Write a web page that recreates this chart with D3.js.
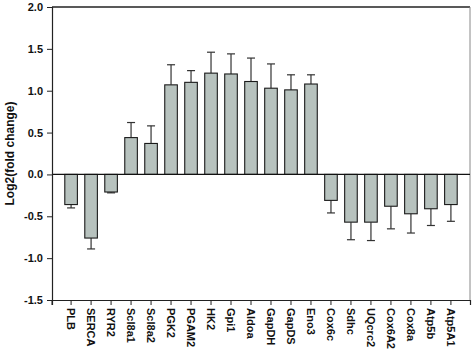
<!DOCTYPE html>
<html>
<head>
<meta charset="utf-8">
<script src="https://cdn.jsdelivr.net/npm/d3@7"></script>
<style>
  body { margin: 0; background: #fff; }
  text { font-family: Arial, "Liberation Sans", sans-serif; font-weight: bold; fill: #111; }
</style>
</head>
<body>
<svg id="chart" width="474" height="351"></svg>
<script>
// genes on the x axis
const genes = ["PLB", "SERCA", "RYR2", "Scl8a1", "Scl8a2", "PGK2", "PGAM2", "HK2", "Gpi1", "Aldoa",
  "GapDH", "GapDS", "Eno3", "Cox6c", "Sdhc", "UQcrc2", "Cox6A2", "Cox8a", "Atp5b", "Atp5A1"];
// mean log2 fold change
const foldChange = [-0.36, -0.76, -0.21, 0.44, 0.37, 1.07, 1.10, 1.21, 1.20, 1.11,
  1.03, 1.01, 1.08, -0.31, -0.57, -0.57, -0.38, -0.47, -0.41, -0.36];
// error bar length (SD)
const errors = [0.04, 0.13, 0.01, 0.18, 0.21, 0.24, 0.14, 0.25, 0.24, 0.28,
  0.29, 0.18, 0.11, 0.15, 0.21, 0.22, 0.27, 0.23, 0.20, 0.20];
const yTicks = [-1.5, -1.0, -0.5, 0.0, 0.5, 1.0, 1.5, 2.0];

function drawChart(svgSelector) {
    const svg = d3.select(svgSelector);
    const margin = { top: 7, right: 4, bottom: 51, left: 52 };
    const width = +svg.attr("width") - margin.left - margin.right;
    const height = +svg.attr("height") - margin.top - margin.bottom;

    const data = genes.map((g, i) => ({ gene: g, value: foldChange[i], err: errors[i] }));

    const x = d3.scaleBand()
        .domain(genes)
        .range([0, width])
        .paddingInner(0.37)
        .paddingOuter(0.64);

    const y = d3.scaleLinear()
        .domain([-1.5, 2.0])
        .range([height, 0]);

    const chart = svg.append("g")
        .attr("transform", `translate(${margin.left},${margin.top})`);

    // frame: top and right
    chart.append("line")
        .attr("x1", 0).attr("x2", width)
        .attr("y1", 0).attr("y2", 0)
        .attr("stroke", "#222").attr("stroke-width", 1.5);
    chart.append("line")
        .attr("x1", width).attr("x2", width)
        .attr("y1", 0).attr("y2", height)
        .attr("stroke", "#888").attr("stroke-width", 1);

    // error bars
    const eb = chart.selectAll("g.err")
        .data(data)
        .enter()
        .append("g")
        .attr("class", "err")
        .attr("stroke", "#333")
        .attr("stroke-width", 1.2);
    eb.append("line")
        .attr("x1", d => x(d.gene) + x.bandwidth() / 2)
        .attr("x2", d => x(d.gene) + x.bandwidth() / 2)
        .attr("y1", d => y(d.value))
        .attr("y2", d => y(d.value + Math.sign(d.value) * d.err));
    eb.append("line")
        .attr("x1", d => x(d.gene) + x.bandwidth() / 2 - 4)
        .attr("x2", d => x(d.gene) + x.bandwidth() / 2 + 4)
        .attr("y1", d => y(d.value + Math.sign(d.value) * d.err))
        .attr("y2", d => y(d.value + Math.sign(d.value) * d.err));

    // bars
    chart.selectAll("rect.bar")
        .data(data)
        .enter()
        .append("rect")
        .attr("class", "bar")
        .attr("x", d => x(d.gene))
        .attr("y", d => y(Math.max(0, d.value)))
        .attr("width", x.bandwidth())
        .attr("height", d => Math.abs(y(d.value) - y(0)))
        .attr("fill", "#b7c2be")
        .attr("stroke", "#1a1a1a")
        .attr("stroke-width", 1.1);

    // zero line
    chart.append("line")
        .attr("x1", 0).attr("x2", width)
        .attr("y1", y(0)).attr("y2", y(0))
        .attr("stroke", "#111").attr("stroke-width", 1.2);

    // Y axis
    const yAxis = chart.append("g")
        .call(d3.axisLeft(y).tickValues(yTicks).tickSize(5).tickPadding(4)
            .tickFormat(d => d.toFixed(1)));
    yAxis.select(".domain").attr("stroke", "#222").attr("stroke-width", 1.2);
    yAxis.selectAll(".tick line").attr("stroke", "#222");
    yAxis.selectAll("text").style("font-size", "11px").style("font-weight", "bold").attr("fill", "#111");

    // X axis
    const xAxis = chart.append("g")
        .attr("transform", `translate(0,${height})`)
        .call(d3.axisBottom(x).tickSizeOuter(0).tickSize(5));
    xAxis.select(".domain").attr("stroke", "#222").attr("stroke-width", 1.2);
    xAxis.selectAll(".tick line").attr("stroke", "#222");
    xAxis.append("line")
        .attr("x1", 0).attr("x2", 0).attr("y1", 0).attr("y2", 5)
        .attr("stroke", "#222");
    xAxis.selectAll(".tick text")
        .attr("transform", "rotate(90)")
        .attr("x", 8)
        .attr("y", 0)
        .attr("dy", "0.35em")
        .attr("text-anchor", "start")
        .style("font-size", "11px")
        .style("font-weight", "bold")
        .attr("fill", "#111");

    // Y axis title
    svg.append("text")
        .attr("transform", `translate(14,${margin.top + y(0.25)}) rotate(-90)`)
        .attr("text-anchor", "middle")
        .style("font-size", "12px")
        .text("Log2(fold change)");
}

drawChart("#chart");
</script>
</body>
</html>
